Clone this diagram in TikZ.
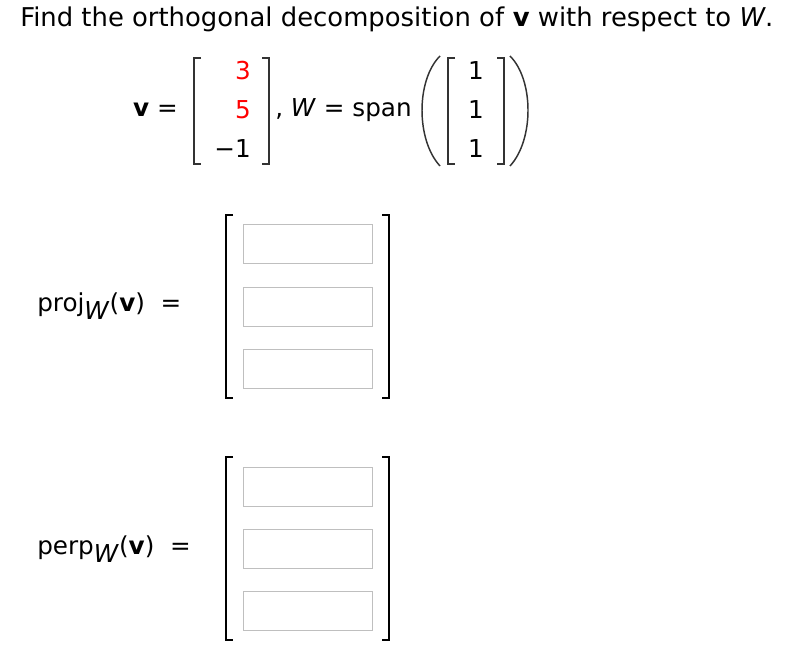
\documentclass[tikz,border=0pt]{standalone}
\usepackage{fontspec}
\setmainfont{DejaVu Sans}
\begin{document}
\begin{tikzpicture}[x=0.75pt,y=-0.75pt,
  box/.style={draw=black!25,line width=0.75pt},
  brk/.style={draw=black,line width=1.6pt},
  thinbrk/.style={draw=black!80,line width=1.1pt},
  txt/.style={inner sep=0pt,font=\fontsize{18.5}{22}\selectfont}]
\useasboundingbox (0,0) rectangle (798,648);
\node[anchor=west,inner sep=0pt,font=\fontsize{19.4}{23}\selectfont] (title) at (20,19) {Find the orthogonal decomposition of \textbf{v} with respect to \textit{W}.};
% v
\node[txt,anchor=east] (veq) at (178,110) {\textbf{v} =};
\draw[thinbrk] (201,58) -- (194,58) -- (194,164) -- (201,164);
\draw[thinbrk] (262,58) -- (269,58) -- (269,164) -- (262,164);
\node[txt,anchor=east,text=red] (v1) at (251,71) {3};
\node[txt,anchor=east,text=red] (v2) at (251,110) {5};
\node[txt,anchor=east] (v3) at (251,149) {−1};
\node[txt,anchor=west] (span) at (275,110) {, \textit{W} = span};
\draw[thinbrk] (440,56) .. controls (416,80) and (416,140) .. (440,166);
\draw[thinbrk] (510,56) .. controls (534,80) and (534,140) .. (510,166);
\draw[thinbrk] (455,58) -- (448,58) -- (448,164) -- (455,164);
\draw[thinbrk] (497,58) -- (504,58) -- (504,164) -- (497,164);
\node[txt] (w1) at (476,71) {1};
\node[txt] (w2) at (476,110) {1};
\node[txt] (w3) at (476,149) {1};
% proj
\node[txt,anchor=west] (proj) at (37,306) {proj\raisebox{-0.35em}{\textit{W}}(\textbf{v})\ \ =};
\draw[brk] (233,215) -- (226,215) -- (226,398) -- (233,398);
\draw[brk] (382,215) -- (389,215) -- (389,398) -- (382,398);
\draw[box] (243,225) rectangle (372,264);
\draw[box] (243,287) rectangle (372,326);
\draw[box] (243,349) rectangle (372,388);
% perp
\node[txt,anchor=west] (perp) at (37,549) {perp\raisebox{-0.35em}{\textit{W}}(\textbf{v})\ \ =};
\draw[brk] (233,457) -- (226,457) -- (226,640) -- (233,640);
\draw[brk] (382,457) -- (389,457) -- (389,640) -- (382,640);
\draw[box] (243,467) rectangle (372,506);
\draw[box] (243,529) rectangle (372,568);
\draw[box] (243,591) rectangle (372,630);
\end{tikzpicture}
\end{document}
